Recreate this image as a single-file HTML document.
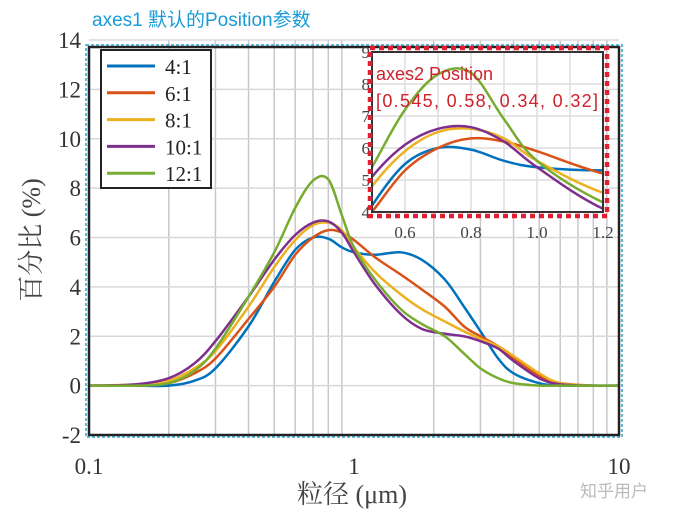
<!DOCTYPE html>
<html><head><meta charset="utf-8"><style>
body{margin:0;background:#fff;}
svg{display:block;font-family:"Liberation Serif","Noto Serif CJK SC",serif;}
</style></head><body>
<svg width="678" height="515" viewBox="0 0 678 515">
<text x="92" y="26" font-family="Liberation Sans,'Noto Sans CJK SC',sans-serif" font-size="19" fill="#1a9bd7">axes1 默认的Position参数</text>
<g id="main"></g>
<g id="inset"></g>
<text x="580" y="497" font-family="'Noto Sans CJK SC',sans-serif" font-size="17" fill="#bbb">知乎用户</text>
</svg>
<script>
const xs=[0.1,0.15,0.2,0.25,0.3,0.4,0.5,0.6,0.7,0.8,0.9,1.0,1.2,1.5,1.8,2.2,2.6,3,3.5,4,5,6,8,10];
const s41=[0,0,0,0.2,0.7,2.4,4.2,5.5,6.0,5.95,5.6,5.4,5.3,5.4,5.1,4.3,3.2,2.2,1.1,0.5,0.1,0,0,0];
const s61=[0,0,0.1,0.5,1.1,2.7,4.0,5.3,6.0,6.3,6.2,5.9,5.2,4.5,3.9,3.2,2.4,2.0,1.6,1.1,0.4,0.1,0,0];
const s81=[0,0.05,0.2,0.7,1.4,3.2,4.8,5.9,6.5,6.6,6.3,5.6,4.6,3.7,3.1,2.6,2.2,1.9,1.6,1.2,0.5,0.1,0,0];
const s101=[0,0.05,0.3,0.9,1.8,3.6,5.1,6.1,6.6,6.65,6.2,5.4,4.1,2.9,2.3,2.1,2.0,1.8,1.5,1.0,0.3,0.05,0,0];
const s121=[0,0,0.1,0.6,1.5,3.6,5.4,7.2,8.3,8.35,6.9,5.6,4.3,3.1,2.5,2.0,1.3,0.7,0.3,0.1,0,0,0,0];
const names=["4:1","6:1","8:1","10:1","12:1"];
const colors=["#0072bd","#d95319","#edb120","#7e2f8e","#77ac30"];
const series=[s41,s61,s81,s101,s121];
const yTicks=[-2,0,2,4,6,8,10,12,14];
const xTickLabels=["0.1","1","10"];
const insetX=[0.6,0.8,1.0,1.2];
const insetY=[4,5,6,7,8,9];
const NS="http://www.w3.org/2000/svg";
function el(t,a,p){const e=document.createElementNS(NS,t);for(const k in a)e.setAttribute(k,a[k]);p.appendChild(e);return e;}
const L=89,R=619,T=40,B=435;
const X=v=>L+(Math.log10(v)+1)/2*(R-L);
const Y=v=>B-(v+2)/16*(B-T);
function path(pts){let d="M"+pts[0][0]+","+pts[0][1];for(let i=0;i<pts.length-1;i++){const p0=pts[Math.max(0,i-1)],p1=pts[i],p2=pts[i+1],p3=pts[Math.min(pts.length-1,i+2)];d+=" C"+(p1[0]+(p2[0]-p0[0])/6)+","+(p1[1]+(p2[1]-p0[1])/6)+" "+(p2[0]-(p3[0]-p1[0])/6)+","+(p2[1]-(p3[1]-p1[1])/6)+" "+p2[0]+","+p2[1];}return d;}
const g=document.getElementById("main");
for(let d=0;d<2;d++)for(let m=2;m<=9;m++){const v=Math.pow(10,d-1)*m;const l=el("line",{x1:X(v),x2:X(v),y1:T,y2:B,stroke:"#c8c8c8","stroke-width":1.5},g);}
yTicks.forEach(v=>{const l=el("line",{x1:L,x2:R,y1:Y(v),y2:Y(v),stroke:"#d8d8d8","stroke-width":1.5},g);
const t=el("text",{x:L-8,y:Y(v)+8,"text-anchor":"end","font-size":23,fill:"#333"},g);t.textContent=v;});
xTickLabels.forEach(s=>{const t=el("text",{x:X(+s),y:474,"text-anchor":"middle","font-size":23,fill:"#333"},g);t.textContent=s;});
series.forEach((s,i)=>{const p=el("path",{d:path(xs.map((x,j)=>[X(x),Y(s[j])])),fill:"none",stroke:colors[i],"stroke-width":2.5},g);});
const fr=el("rect",{x:L,y:T+7,width:R-L,height:B-T-7,fill:"none",stroke:"#222","stroke-width":2.5},g);
const cy=el("rect",{x:L-3,y:T+5,width:R-L+6,height:B-T-3,fill:"none",stroke:"#2aa3c7","stroke-width":1.5,"stroke-dasharray":"3,2"},g);
const yl=el("text",{x:0,y:0,transform:"translate(40,240) rotate(-90)","text-anchor":"middle","font-size":26,fill:"#444"},g);yl.textContent="百分比 (%)";
const xl=el("text",{x:352,y:503,"text-anchor":"middle","font-size":26,fill:"#444"},g);xl.textContent="粒径 (μm)";
const lg=el("g",{},g);
el("rect",{x:101,y:50,width:110,height:138,fill:"#fff",stroke:"#222","stroke-width":2},lg);
names.forEach((n,i)=>{const yy=66+i*26.8;const e=el("g",{},lg);
el("line",{x1:107,x2:155,y1:yy,y2:yy,stroke:colors[i],"stroke-width":3},e);
const t=el("text",{x:165,y:yy+8,"font-size":21,fill:"#222"},e);t.textContent=n;});
const ig=document.getElementById("inset");
const IL=372,IR=603,IT=52,IB=212;
const IX=v=>IL+(v-0.5)/0.7*(IR-IL);
const IY=v=>IB-(v-4)/5*(IB-IT);
el("rect",{x:IL,y:IT,width:IR-IL,height:IB-IT,fill:"#fff"},ig);
[0.6,0.7,0.8,0.9,1.0,1.1].forEach(v=>{const l=el("line",{x1:IX(v),x2:IX(v),y1:IT,y2:IB,stroke:"#ddd","stroke-width":1.5},ig);});
insetY.forEach(v=>{const l=el("line",{x1:IL,x2:IR,y1:IY(v),y2:IY(v),stroke:"#ddd","stroke-width":1.5},ig);
const t=el("text",{x:IL-2,y:IY(v)+6,"text-anchor":"end","font-size":17,fill:"#444"},ig);t.textContent=v;});
insetX.forEach(v=>{const t=el("text",{x:IX(v),y:238,"text-anchor":"middle","font-size":17,fill:"#444"},ig);t.textContent=v.toFixed(1);});
const cp=el("clipPath",{id:"ic"},ig);
el("rect",{x:IL,y:IT,width:IR-IL,height:IB-IT},cp);
const cg=el("g",{"clip-path":"url(#ic)"},ig);
series.forEach((s,i)=>{const pts=[];xs.forEach((x,j)=>{if(x>=0.4&&x<=1.5)pts.push([IX(x),IY(s[j])]);});const p=el("path",{d:path(pts),fill:"none",stroke:colors[i],"stroke-width":2.5},cg);});
el("rect",{x:IL,y:IT,width:IR-IL,height:IB-IT,fill:"none",stroke:"#333","stroke-width":2},ig);
const rd=el("rect",{x:IL-2,y:IT-4,width:IR-IL+6,height:IB-IT+8,fill:"none",stroke:"#e02030","stroke-width":4.5,"stroke-dasharray":"5,4"},ig);
const t1=el("text",{x:376,y:80,"font-family":"Liberation Sans,sans-serif","font-size":18,fill:"#d0202c"},ig);t1.textContent="axes2 Position";
const t2=el("text",{x:376,y:107,"font-family":"Liberation Sans,sans-serif","font-size":18,fill:"#d0202c",textLength:222},ig);t2.textContent="[0.545, 0.58, 0.34, 0.32]";
</script>
</body></html>
